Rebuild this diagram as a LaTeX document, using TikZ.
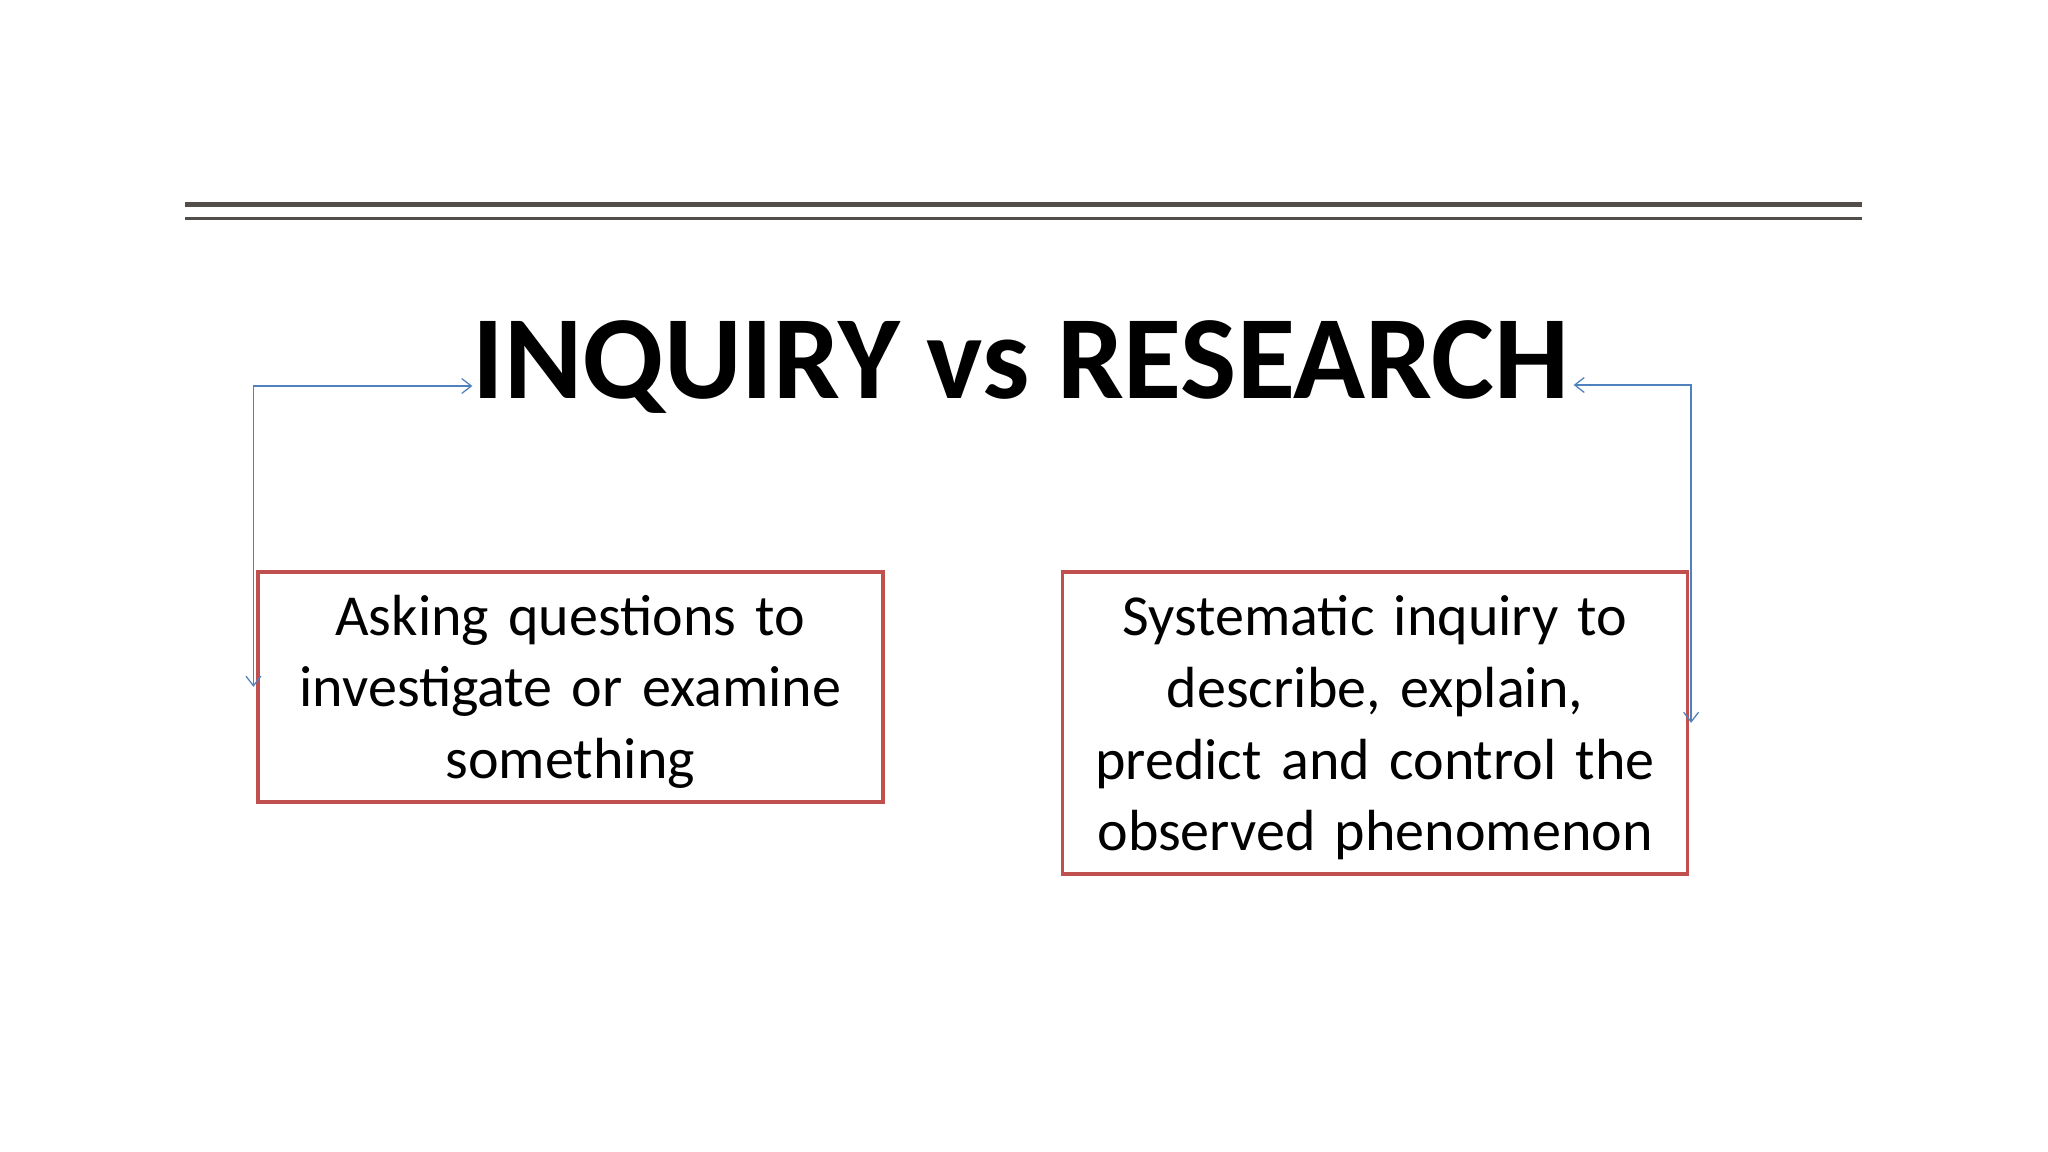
\documentclass[tikz,border=0pt]{standalone}
\usepackage{fontspec}
\setmainfont{Carlito}
\usepackage{xcolor}
\usetikzlibrary{positioning,calc,arrows.meta}

\definecolor{boxred}{RGB}{192,80,77}
\definecolor{linkblue}{RGB}{79,129,189}
\definecolor{rulegray}{RGB}{82,78,74}

\begin{document}
\begin{tikzpicture}[x=0.46875pt,y=-0.46875pt,
        box/.style={draw=boxred, line width=1.7pt, minimum width=293pt, text width=280pt,
            align=center, inner sep=0pt, font=\fontsize{27.2}{33.6}\selectfont},
        link/.style={draw=linkblue, line width=0.6pt, {Straight Barb[length=4.5pt,width=7pt]}-{Straight Barb[length=4.5pt,width=7pt]}}]
        \useasboundingbox (0,0) rectangle (2048,1152);
        % rules on top
        \draw[rulegray, line width=2.8pt] (185,204.5) -- (1862,204.5);
        \draw[rulegray, line width=1pt] (185,218.5) -- (1862,218.5);
        % title
        \node[anchor=base, inner sep=0pt, font=\fontsize{55.7}{60}\selectfont\bfseries] (title) at (1021,398) {INQUIRY vs RESEARCH};
        \coordinate (tl) at ($(title.base west)+(0,-12)$);
        \coordinate (tr) at ($(title.base east)+(4,-13)$);
        % the two boxes
        \node[box, anchor=north west, minimum height=107.8pt] (inquiry) at (256,570)
            {\strut Asking questions to\\investigate or examine\\something};
        \node[box, below right=0pt and 82.5pt of inquiry.north east, minimum height=141.6pt] (research)
            {\strut Systematic inquiry to\\describe, explain,\\predict and control the\\observed phenomenon};
        \draw[link] ([xshift=-1.2pt]inquiry.west) |- (tl);
        \draw[link] ([xshift=0.8pt]research.east) |- (tr);
    \end{tikzpicture}
\end{document}
